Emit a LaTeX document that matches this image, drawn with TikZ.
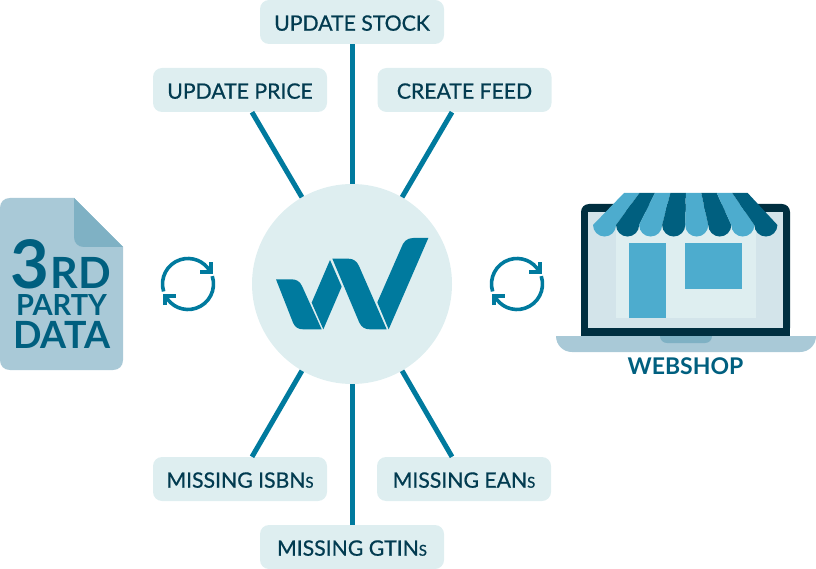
\documentclass[tikz,border=0pt]{standalone}
\usepackage{fontspec}
\setmainfont{Lato}
\newfontfamily\medfont[FakeBold=0.7]{Lato}
\usetikzlibrary{calc}
\definecolor{pale}{HTML}{DEEEF0}
\definecolor{teal}{HTML}{007A9E}
\definecolor{ink}{HTML}{005F7F}
\definecolor{labelink}{HTML}{023B50}
\definecolor{docblue}{HTML}{A9C9D7}
\definecolor{folded}{HTML}{7FB1C4}
\definecolor{frameD}{HTML}{002F40}
\definecolor{screenB}{HTML}{D3E4EA}
\definecolor{awnL}{HTML}{4DACCE}
\definecolor{awnD}{HTML}{005F7F}
\tikzset{
  label box/.style={fill=pale,rounded corners=9pt,minimum height=44pt,inner sep=0pt,text=labelink,font=\medfont\fontsize{21.2}{21.2}\selectfont,anchor=center,text height=17.4pt,text depth=0pt},
  wide box/.style={label box,minimum width=184pt},
  mid box/.style={label box,minimum width=174pt},
  spoke/.style={draw=teal,line width=5pt},
  cyc/.style={draw=teal,line width=3.6pt},
  cyctip/.style={draw=teal,line width=3.2pt,miter limit=4},
  doctext/.style={inner sep=0pt,text=ink,text depth=0pt}
}
\newcommand{\smS}{{\fontsize{15}{15}\selectfont S}}
\begin{document}
\begin{tikzpicture}[x=1pt,y=-1pt]
\useasboundingbox (0,0) rectangle (816,569);
% boxes
\node[wide box] (stock) at (352,22) {UPDATE STOCK};
\node[mid box] (price) at (240,90) {UPDATE PRICE};
\node[mid box] (feed) at (464.5,90) {CREATE FEED};
\node[mid box] (isbn) at (240,479) {MISSING ISBN\smS};
\node[mid box] (ean) at (464,479) {MISSING EAN\smS};
\node[wide box] (gtin) at (352,547) {MISSING GTIN\smS};
% hub
\node[circle,fill=pale,minimum size=200pt,inner sep=0pt] (hub) at (352,284) {};
% spokes
\draw[spoke] (stock.south) -- (hub.90);
\draw[spoke] ([xshift=12pt]price.south) -- (hub.120);
\draw[spoke] ([xshift=-12.5pt]feed.south) -- (hub.60);
\draw[spoke] ([xshift=12pt]isbn.north) -- (hub.240);
\draw[spoke] ([xshift=-12pt]ean.north) -- (hub.300);
\draw[spoke] (gtin.north) -- (hub.270);
% logo
\begin{scope}[shift={(240,180)},x=0.33333pt,y=-0.33333pt]
\fill[teal] (108,298) -- (155,298) .. controls (170,298) and (180,305) .. (186,318) -- (245,448) -- (190,448) .. controls (175,448) and (165,442) .. (159,428) -- cycle;
\fill[teal] (270,240) -- (305,320) -- (250,448) -- (215,368) -- cycle;
\fill[teal] (277,236) -- (325,236) .. controls (340,236) and (350,243) .. (357,258) -- (440,448) -- (390,448) .. controls (375,448) and (365,442) .. (358,428) -- cycle;
\fill[teal] (565,174) -- (446,448) -- (412,367) -- (483,205) .. controls (490,185) and (500,174) .. (520,174) -- cycle;
\end{scope}
% document
\fill[docblue] (0,208) .. controls (0,202) and (4,198) .. (10,198) -- (74,198) -- (123,247) -- (123,360) .. controls (123,366) and (119,370) .. (113,370) -- (10,370) .. controls (4,370) and (0,366) .. (0,360) -- cycle;
\fill[folded] (74,198) -- (123,247) -- (84,247) .. controls (78,247) and (74,243) .. (74,237) -- cycle;
\node[doctext,anchor=base west,text height=48pt,font=\bfseries\fontsize{67}{67}\selectfont] (three) at (10,288) {3};
\node[doctext,anchor=base east,text height=32pt,font=\bfseries\fontsize{43}{43}\selectfont] (rd) at (111,288) {RD};
\node[doctext,anchor=base,text height=20pt,font=\bfseries\fontsize{29}{29}\selectfont] (party) at (61.5,315) {PARTY};
\node[doctext,anchor=base,text height=28pt,font=\bfseries\fontsize{37.5}{37.5}\selectfont] (data) at (61.5,348) {DATA};
% refresh icons
\foreach \cx in {188,517}{
  \draw[cyc] ([shift={(197:25.5pt)}]\cx,284) arc[start angle=197,end angle=30,radius=25.5pt];
  \draw[cyc] ([shift={(18:25.5pt)}]\cx,284) arc[start angle=18,end angle=-153,radius=25.5pt];
  \draw[cyctip] (\cx+12,272) -- (\cx+23,272) -- (\cx+23,262);
  \draw[cyctip] (\cx-23,305) -- (\cx-23,296) -- (\cx-12.5,296);
}
% laptop
\fill[frameD,rounded corners=8pt] (581,336) -- (581,204) -- (790,204) -- (790,336) -- cycle;
\fill[frameD] (581,326) rectangle (790,336);
\fill[screenB] (588,212) rectangle (783,328);
\fill[pale] (616,225) rectangle (756,318);
\fill[awnL] (629,243) rectangle (666,318);
\fill[awnL] (685,243) rectangle (742,289);
\fill[docblue] (556,336) -- (816,336) .. controls (816,345) and (809,352) .. (800,352) -- (572,352) .. controls (563,352) and (556,345) .. (556,336) -- cycle;
\fill[folded] (660,336) -- (712,336) .. controls (712,340) and (709,343) .. (705,343) -- (667,343) .. controls (663,343) and (660,340) .. (660,336) -- cycle;
\foreach \i/\c in {0/awnL,1/awnD,2/awnL,3/awnD,4/awnL,5/awnD,6/awnL,7/awnD}{
  \fill[\c] (624+15.46*\i,193) -- (624+15.46*\i+15.46,193) -- (593+23.05*\i+23.05,225) arc[start angle=0,end angle=-180,radius=11.525pt] -- cycle;
}
\node[inner sep=0pt,anchor=base,text=ink,text height=16pt,text depth=0pt,font=\bfseries\fontsize{23}{23}\selectfont] (shop) at (685.5,374) {WEBSHOP};
\end{tikzpicture}
\end{document}
